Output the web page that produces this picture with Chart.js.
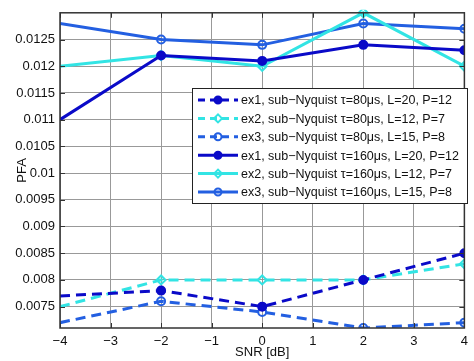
<!DOCTYPE html>
<html>
<head>
<meta charset="utf-8">
<script src="https://cdn.jsdelivr.net/npm/chart.js@4"></script>
<style>
  html, body { margin: 0; padding: 0; background: #fff; }
  #wrap { width: 474px; height: 361px; }
</style>
</head>
<body>
<div id="wrap"><canvas id="pfaChart" width="474" height="361"></canvas></div>
<script>
const snr = [-4, -2, 0, 2, 4];
const ex1Sub80 = [0.0077, 0.0078, 0.0075, 0.0080, 0.0085];
const ex2Sub80 = [0.0075, 0.0080, 0.0080, 0.0080, 0.0083];
const ex3Sub80 = [0.0072, 0.0076, 0.0074, 0.0071, 0.0072];
const ex1Sub160 = [0.0110, 0.0122, 0.0121, 0.0124, 0.0123];
const ex2Sub160 = [0.0120, 0.0122, 0.0120, 0.0130, 0.0120];
const ex3Sub160 = [0.0128, 0.0125, 0.0124, 0.0128, 0.0127];
const xTicks = [-4, -3, -2, -1, 0, 1, 2, 3, 4];
const yTicks = [0.0075, 0.008, 0.0085, 0.009, 0.0095, 0.01, 0.0105, 0.011, 0.0115, 0.012, 0.0125];

const DARK = "rgb(10,10,200)";
const CYAN = "rgb(50,228,228)";
const MID = "rgb(35,95,225)";
const FONT = "'Liberation Sans', Arial, sans-serif";

function series(label, values, color, dashed, marker) {
  const filled = marker === "dot";
  const r = marker === "diamond" ? 4.5 : 4;
  return {
    label,
    data: snr.map((x, i) => ({ x, y: values[i] })),
    borderColor: color,
    backgroundColor: filled ? color : "rgba(255,255,255,0)",
    borderWidth: 3,
    borderDash: dashed ? [10, 6] : [],
    pointStyle: marker === "diamond" ? "rectRot" : "circle",
    legendRadius: r - 0.5,
    // markers at the left edge are hidden in the original
    pointRadius: c => (c.dataIndex === 0 ? 0 : r),
    pointBorderWidth: 2,
    pointBackgroundColor: filled ? color : "rgba(255,255,255,0)",
    pointBorderColor: color,
    tension: 0,
    fill: false,
    clip: { left: 0, right: 0, top: 3, bottom: 0 }
  };
}

const datasets = [
  series("ex1, sub\u2212Nyquist \u03c4=80\u03bcs, L=20, P=12", ex1Sub80, DARK, true, "dot"),
  series("ex2, sub\u2212Nyquist \u03c4=80\u03bcs, L=12, P=7", ex2Sub80, CYAN, true, "diamond"),
  series("ex3, sub\u2212Nyquist \u03c4=80\u03bcs, L=15, P=8", ex3Sub80, MID, true, "ring"),
  series("ex1, sub\u2212Nyquist \u03c4=160\u03bcs, L=20, P=12", ex1Sub160, DARK, false, "dot"),
  series("ex2, sub\u2212Nyquist \u03c4=160\u03bcs, L=12, P=7", ex2Sub160, CYAN, false, "diamond"),
  series("ex3, sub\u2212Nyquist \u03c4=160\u03bcs, L=15, P=8", ex3Sub160, MID, false, "ring")
];

function fmtY(v) { return String(+v.toFixed(4)); }

// frame, inward ticks, axis titles and the in-plot legend
const matlabAxes = {
  id: "matlabAxes",
  afterDatasetsDraw(chart) {
    const { ctx, chartArea: a, scales } = chart;
    ctx.save();
    ctx.strokeStyle = "#333";
    ctx.lineWidth = 1;
    ctx.setLineDash([]);
    ctx.beginPath();
    xTicks.forEach(t => {
      const px = Math.round(scales.x.getPixelForValue(t)) + 0.5;
      ctx.moveTo(px, a.bottom); ctx.lineTo(px, a.bottom - 5);
      ctx.moveTo(px, a.top); ctx.lineTo(px, a.top + 5);
    });
    yTicks.forEach(t => {
      const py = Math.round(scales.y.getPixelForValue(t)) + 0.5;
      ctx.moveTo(a.left, py); ctx.lineTo(a.left + 5, py);
      ctx.moveTo(a.right, py); ctx.lineTo(a.right - 5, py);
    });
    ctx.stroke();
    ctx.lineWidth = 1.5;
    ctx.strokeRect(a.left, a.top, a.right - a.left, a.bottom - a.top);

    ctx.fillStyle = "#111";
    ctx.font = "13px " + FONT;
    ctx.textAlign = "center";
    ctx.textBaseline = "middle";
    ctx.fillText("SNR [dB]", (a.left + a.right) / 2, 352);
    ctx.save();
    ctx.translate(22, (a.top + a.bottom) / 2);
    ctx.rotate(-Math.PI / 2);
    ctx.fillText("PFA", 0, 0);
    ctx.restore();

    // legend box
    const bx = 192, by = 88, bw = 275, rowH = 18.4;
    const bh = 115;
    ctx.fillStyle = "#fff";
    ctx.fillRect(bx, by, bw, bh);
    ctx.lineWidth = 1;
    ctx.strokeStyle = "#222";
    ctx.strokeRect(bx + 0.5, by + 0.5, bw, bh);
    chart.data.datasets.forEach((ds, i) => {
      const cy = by + 12 + i * rowH;
      ctx.strokeStyle = ds.borderColor;
      ctx.lineWidth = ds.borderWidth;
      ctx.setLineDash(ds.borderDash.length ? [7, 5] : []);
      ctx.beginPath();
      ctx.moveTo(bx + 6, cy); ctx.lineTo(bx + 46, cy);
      ctx.stroke();
      ctx.setLineDash([]);
      ctx.lineWidth = ds.pointBorderWidth;
      ctx.fillStyle = ds.pointBackgroundColor;
      Chart.helpers.drawPoint(ctx, {
        pointStyle: ds.pointStyle, rotation: 0, radius: ds.legendRadius, borderWidth: ds.pointBorderWidth
      }, bx + 26, cy);
      ctx.fillStyle = "#111";
      ctx.textAlign = "left";
      ctx.font = "12.5px " + FONT;
      ctx.fillText(ds.label, bx + 49, cy + 1);
    });
    ctx.restore();
  }
};

new Chart(document.getElementById("pfaChart"), {
  type: "line",
  data: { datasets },
  options: {
    responsive: false,
    animation: false,
    layout: { padding: { left: 0, right: 6, top: 7, bottom: 0 } },
    plugins: { legend: { display: false }, tooltip: { enabled: false } },
    scales: {
      x: {
        type: "linear",
        min: -4,
        max: 4,
        afterBuildTicks: s => { s.ticks = xTicks.map(v => ({ value: v })); },
        afterFit: s => { s.height = 33; },
        grid: { color: "#999", borderDash: [1, 3], drawTicks: false, lineWidth: 1 },
        border: { display: false },
        ticks: {
          padding: 6,
          color: "#111",
          font: { family: FONT, size: 13 },
          callback: v => String(v).replace("-", "\u2212")
        }
      },
      y: {
        min: 0.0071,
        max: 0.0130,
        afterBuildTicks: s => { s.ticks = yTicks.map(v => ({ value: v })); },
        afterFit: s => { s.width = 60; },
        grid: { color: "#999", borderDash: [1, 3], drawTicks: false, lineWidth: 1 },
        border: { display: false },
        ticks: {
          padding: 5,
          color: "#111",
          font: { family: FONT, size: 13 },
          callback: v => fmtY(v)
        }
      }
    }
  },
  plugins: [matlabAxes]
});
</script>
</body>
</html>
